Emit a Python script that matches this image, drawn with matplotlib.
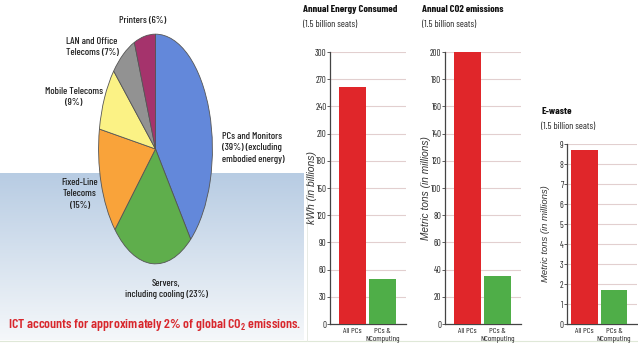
import matplotlib.pyplot as plt
import numpy as np

COND = ['Barlow Condensed', 'Archivo Narrow', 'DejaVu Sans']
plt.rcParams['font.family'] = COND
plt.rcParams['mathtext.default'] = 'regular'

# pie data (clockwise from top)
pie_labels = ['PCs and Monitors', 'Servers', 'Fixed-Line', 'Mobile', 'LAN', 'Printers']
pie_values = [39, 23, 15, 9, 7, 6]
pie_colors = ['#6388da', '#5fae4c', '#f9a33a', '#fbf285', '#929292', '#a5336c']

# bar data
bar_cats = ['All PCs', 'PCs &\nNComputing']
energy = [261, 50]
co2 = [200, 35]
ewaste = [8.7, 1.7]

W, H = 638, 359
fig = plt.figure(figsize=(W / 100, H / 100), dpi=100)

def fx(x):
    return x / W

def fy(y):
    return 1 - y / H

# blue gradient background on the left panel
bg = fig.add_axes([0, fy(340), fx(304), (340 - 173) / H], zorder=0)
grad = np.linspace(0, 1, 100).reshape(-1, 1)
top = np.array([0.72, 0.80, 0.89])
bot = np.array([0.96, 0.97, 0.98])
img = top + (bot - top) * grad[:, :, None]
bg.imshow(img, aspect='auto', extent=[0, 1, 0, 1])
bg.axis('off')

# pie
pax = fig.add_axes([fx(98), fy(265), fx(115), (265 - 33) / H], zorder=2)
pax.pie(pie_values, colors=pie_colors, startangle=90, counterclock=False,
        wedgeprops=dict(edgecolor='#555555', linewidth=0.6))
pax.set_aspect('auto')
pax.set_xlim(-1.01, 1.01)
pax.set_ylim(-1.01, 1.01)
pax.axis('off')

lab_kw = dict(fontsize=7.3, color='#222222', linespacing=1.35, fontweight=500)
fig.text(fx(143), fy(21), 'Printers (6%)', ha='center', va='center', **lab_kw)
fig.text(fx(92), fy(47), 'LAN and Office\nTelecoms (7%)', ha='center', va='center', **lab_kw)
fig.text(fx(74), fy(97), 'Mobile Telecoms\n(9%)', ha='center', va='center', **lab_kw)
fig.text(fx(80), fy(194), 'Fixed-Line\nTelecoms\n(15%)', ha='center', va='center', **lab_kw)
fig.text(fx(166), fy(289), 'Servers,\nincluding cooling (23%)', ha='center', va='center', **lab_kw)
fig.text(fx(222), fy(148), 'PCs and Monitors\n(39%) (excluding\nembodied energy)', ha='left', va='center', **lab_kw)

fig.text(fx(8), fy(325), 'ICT accounts for approximately 2% of global CO$_2$ emissions.',
         ha='left', va='center', fontsize=9.9, fontweight=600, color='#d8262c')

# faint frame lines
fig.add_artist(plt.Line2D([0, 1], [fy(341), fy(341)], color='#dfe8d8', lw=0.8))
fig.add_artist(plt.Line2D([fx(307), fx(307)], [fy(341), fy(175)], color='#e4e8e0', lw=0.6))


def bar_chart(left, right, y_top, y_bot, vmax, step, vals, xlim, title, title_xy,
              ylabel, ylab_x, ylab_size):
    ax = fig.add_axes([fx(left), fy(y_bot), fx(right - left), (y_bot - y_top) / H], zorder=3)
    ax.bar([0, 1], vals, width=0.9, color=['#e0262a', '#4fae48'], zorder=3)
    ax.set_xlim(*xlim)
    ax.set_ylim(0, vmax)
    ticks = np.arange(0, vmax + step / 2, step)
    ax.set_yticks(ticks)
    ax.set_yticklabels([('%g' % t) for t in ticks], fontsize=6.4, color='#222222')
    ax.set_xticks([0, 1])
    ax.set_xticklabels(bar_cats, fontsize=6, color='#222222', linespacing=1.25)
    ax.tick_params(axis='x', length=0, pad=3)
    ax.tick_params(axis='y', length=2, width=0.6, color='#444444', pad=0.5)
    for t in ticks[1:]:
        ax.axhline(t, color='#e2cfcf', lw=0.8, zorder=1)
    for s in ['top', 'right']:
        ax.spines[s].set_visible(False)
    for s in ['left', 'bottom']:
        ax.spines[s].set_color('#444444')
        ax.spines[s].set_linewidth(0.9)
    ax.patch.set_alpha(0)
    tx, ty = title_xy
    fig.text(fx(tx), fy(ty), title, ha='left', va='center', fontsize=7.4, fontweight='bold', color='#111111')
    fig.text(fx(tx), fy(ty + 14), '(1.5 billion seats)', ha='left', va='center', fontsize=7, color='#222222')
    fig.text(fx(ylab_x), fy((y_top + y_bot) / 2), ylabel, rotation=90, ha='center', va='center',
             fontsize=ylab_size, style='italic', color='#333333', family=['Liberation Sans', 'DejaVu Sans'])
    return ax


bar_chart(330, 406, 52, 324, 300, 30, energy, (-0.75, 1.78),
          'Annual Energy Consumed', (303, 10), 'kWh (in billions)', 312, 7.5)
bar_chart(445, 521, 52, 324, 200, 20, co2, (-0.75, 1.78),
          'Annual CO2 emissions', (422, 10), 'Metric tons (in millions)', 426, 7.3)
bar_chart(567, 637, 144, 324, 9, 1, ewaste, (-0.58, 1.77),
          'E-waste', (541, 112), 'Metric tons (in millions)', 546, 6.8)

fig.savefig('out.png', dpi=100)
